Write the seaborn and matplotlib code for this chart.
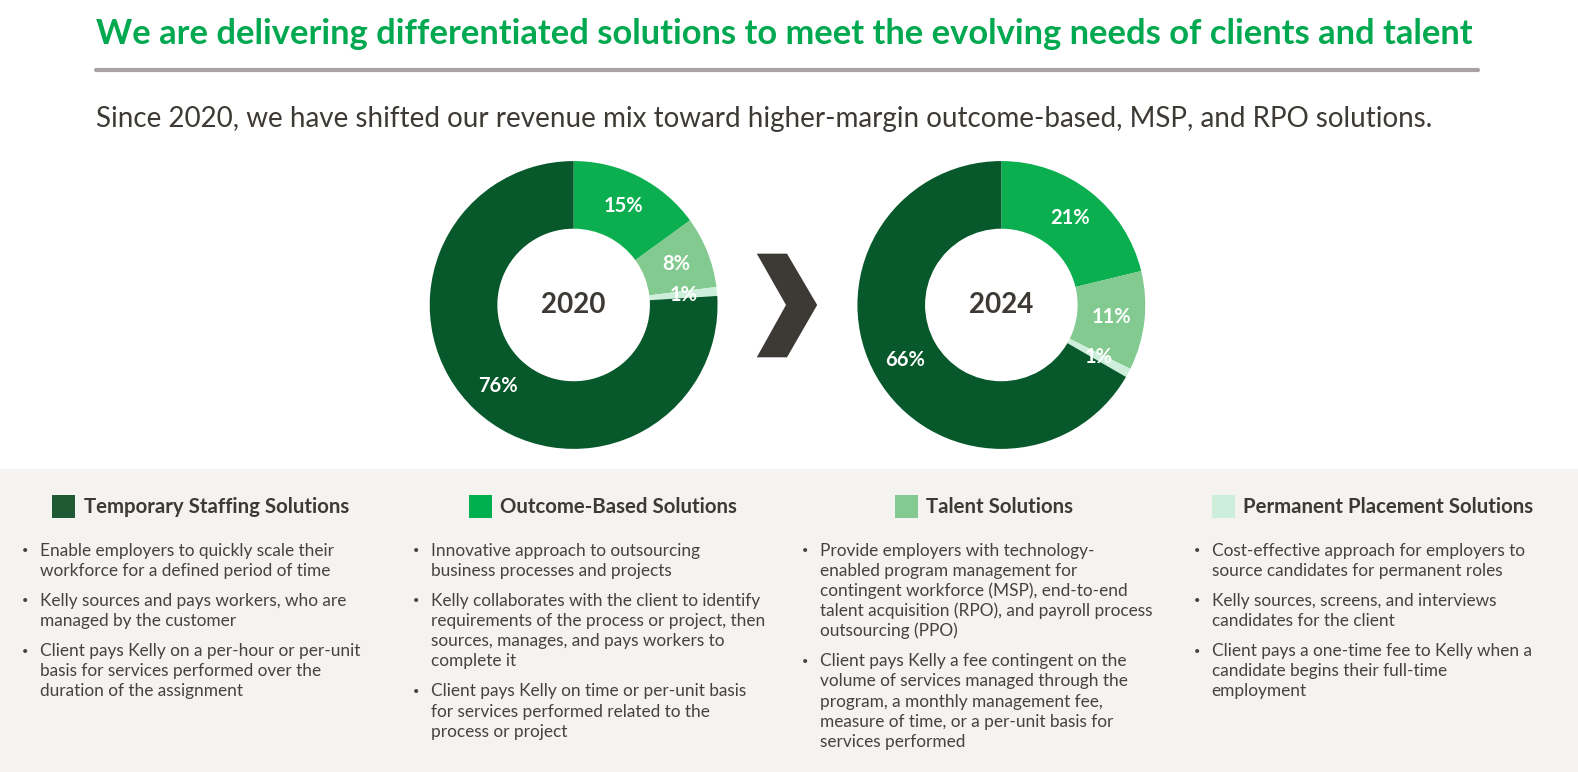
import numpy as np
import matplotlib
matplotlib.use("Agg")
import matplotlib.pyplot as plt
import seaborn as sns
from matplotlib.patches import Rectangle, Polygon
from matplotlib.lines import Line2D

# chart data
categories = ["Temporary Staffing Solutions", "Outcome-Based Solutions",
              "Talent Solutions", "Permanent Placement Solutions"]
years = ["2020", "2024"]
# pie order clockwise from 12 o'clock: Outcome, Talent, Permanent, Temporary
pie_order = [1, 2, 3, 0]
values_2020 = [76, 15, 8, 1]
values_2024 = [66, 21, 11, 1]

title = "We are delivering differentiated solutions to meet the evolving needs of clients and talent"
subtitle = ("Since 2020, we have shifted our revenue mix toward higher-margin "
            "outcome-based, MSP, and RPO solutions.")

bullets = [
    [["Enable employers to quickly scale their", "workforce for a defined period of time"],
     ["Kelly sources and pays workers, who are", "managed by the customer"],
     ["Client pays Kelly on a per-hour or per-unit", "basis for services performed over the",
      "duration of the assignment"]],
    [["Innovative approach to outsourcing", "business processes and projects"],
     ["Kelly collaborates with the client to identify", "requirements of the process or project, then",
      "sources, manages, and pays workers to", "complete it"],
     ["Client pays Kelly on time or per-unit basis", "for services performed related to the",
      "process or project"]],
    [["Provide employers with technology-", "enabled program management for",
      "contingent workforce (MSP), end-to-end", "talent acquisition (RPO), and payroll process",
      "outsourcing (PPO)"],
     ["Client pays Kelly a fee contingent on the", "volume of services managed through the",
      "program, a monthly management fee,", "measure of time, or a per-unit basis for",
      "services performed"]],
    [["Cost-effective approach for employers to", "source candidates for permanent roles"],
     ["Kelly sources, screens, and interviews", "candidates for the client"],
     ["Client pays a one-time fee to Kelly when a", "candidate begins their full-time",
      "employment"]],
]

# styling
sns.set_theme(style="white")
plt.rcParams["font.family"] = ["Lato", "DejaVu Sans"]
pie_colors = sns.color_palette(["#07582b", "#0baf50", "#82ca8f", "#cdeedb"])
legend_colors = ["#1f5a35", "#00b04f", "#82ca8f", "#cdeedb"]
dark = "#3d3935"
body = "#47423f"
green_title = "#00a84f"

W, H = 1568, 767  # reference pixel grid


def fx(x):
    return x / W


def fy(y):
    return 1 - y / H


fig = plt.figure(figsize=(15.78, 7.72), dpi=100)
fig.patch.set_facecolor("white")

# title, rule and subtitle
fig.text(fx(95), fy(34), title, fontsize=24.8, fontweight="bold", color=green_title,
         ha="left", va="center")
fig.add_artist(Line2D([fx(95), fx(1469)], [fy(70), fy(70)], color="#a8a2a5", lw=3))
fig.text(fx(95), fy(118), subtitle, fontsize=20, fontweight="normal", color=dark,
         ha="left", va="center")

# donuts
centers = [(570, 303), (995, 303)]
radius = 143
for (cx, cy), year, vals in zip(centers, years, [values_2020, values_2024]):
    ax = fig.add_axes([fx(cx - radius), fy(cy + radius), 2 * radius / W, 2 * radius / H])
    v = [vals[i] for i in pie_order]
    cols = [pie_colors[i] for i in pie_order]
    ax.pie(v, colors=cols, startangle=90, counterclock=False, radius=1,
           labels=[f"{x}%" for x in v], labeldistance=0.77,
           wedgeprops=dict(width=0.47, linewidth=0),
           textprops=dict(color="white", fontsize=14.5, fontweight="bold",
                          ha="center", va="center"))
    ax.text(0, 0, year, ha="center", va="center", fontsize=20, fontweight="bold", color=dark)
    ax.set_xlim(-1, 1)
    ax.set_ylim(-1, 1)
    ax.set_aspect("equal")
    ax.axis("off")

# chevron between the donuts
chev = [(752, 252), (782, 252), (812, 303), (782, 355), (752, 355), (781, 303)]
fig.add_artist(Polygon([(fx(x), fy(y)) for x, y in chev], closed=True,
                       facecolor=dark, edgecolor="none", transform=fig.transFigure))

# bottom panel
fig.add_artist(Rectangle((0, 0), 1, fy(466), transform=fig.transFigure,
                         facecolor="#f4f3ef", edgecolor="none", zorder=0))

square_x = [52, 466, 889, 1204]
bullet_x = [22, 410, 797, 1186]
for i, name in enumerate(categories):
    sx = square_x[i]
    fig.add_artist(Rectangle((fx(sx), fy(515)), 23 / W, 23 / H, transform=fig.transFigure,
                             facecolor=legend_colors[i], edgecolor="none"))
    fig.text(fx(sx + 31), fy(504), name, fontsize=14.7, fontweight="bold", color=dark,
             ha="left", va="center")
    y = 547
    for item in bullets[i]:
        fig.text(fx(bullet_x[i]), fy(y), "\u2022", fontsize=8, color=body,
                 ha="left", va="center")
        for line in item:
            fig.text(fx(bullet_x[i] + 18), fy(y), line, fontsize=12.4, fontweight="normal",
                     color=body, ha="left", va="center")
            y += 20
        y += 10

fig.savefig("out.png", dpi=100, facecolor=fig.get_facecolor())
